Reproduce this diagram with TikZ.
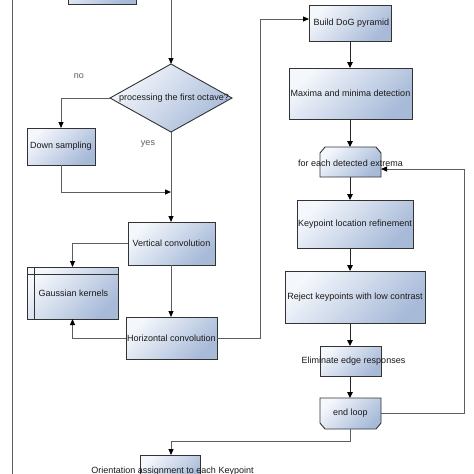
\documentclass[tikz,border=0pt]{standalone}
\usepackage{fontspec}
\setmainfont{Liberation Sans}
\usetikzlibrary{shapes.geometric,arrows.meta,calc}
\definecolor{boxlight}{HTML}{F4F7FC}
\definecolor{boxdark}{HTML}{A7BAD8}
\definecolor{borderc}{HTML}{333333}
\definecolor{linec}{HTML}{5E5E5E}
\definecolor{textc}{HTML}{1A1A1A}
\tikzset{
  boxshade/.style={top color=boxlight, bottom color=boxdark, shading angle=45, draw=borderc, line width=0.9pt},
  box/.style={boxshade, rectangle, inner sep=0pt, outer sep=0pt, minimum width=#1},
  plain/.style={rectangle, inner sep=0pt, outer sep=0pt, draw=none, minimum width=#1},
  txt/.style={text=textc, font=\fontsize{9}{10}\selectfont, inner sep=0pt},
  every label/.style={txt},
  conn/.style={draw=linec, line width=0.8pt},
  arr/.style={conn, -{Triangle[length=6pt,width=5pt,color=black]}},
  darr/.style={draw=black!85, line width=1pt, -{Triangle[length=6pt,width=5.5pt,color=black]}},
  lbl/.style={text=linec, font=\fontsize{9}{10}\selectfont, inner sep=0pt}
}
\begin{document}
\begin{tikzpicture}[x=1pt,y=-1pt]
\useasboundingbox (0,0) rectangle (474,474);
\clip (0,0) rectangle (474,474);
\fill[white] (0,0) rectangle (474,474);

% left column
\node[box=68pt, minimum height=40pt] (top) at (102,-16) {};
\node[diamond, boxshade, inner sep=0pt, outer sep=0pt, minimum width=122pt, minimum height=68pt,
      label={[xshift=3pt]center:processing the first octave?}] (dia) at (171,98) {};
\node[box=68pt, minimum height=37pt, label={center:Down sampling}] (down) at (61,146.5) {};
\node[box=87pt, minimum height=43pt, label={center:Vertical convolution}] (vconv) at (171.5,243.5) {};
\node[box=91pt, minimum height=52pt, label={[xshift=1pt]center:Gaussian kernels}] (gauss) at (72.5,293) {};
\draw[draw=borderc, line width=0.8pt] ($(gauss.north west)+(0,7)$) -- ($(gauss.north east)+(0,7)$);
\draw[draw=borderc, line width=0.8pt] ($(gauss.north west)+(7,0)$) -- ($(gauss.south west)+(7,0)$);
\node[box=91pt, minimum height=42pt, label={center:Horizontal convolution}] (hconv) at (171.5,338) {};
\node[box=60pt, minimum height=30pt] (orient) at (170,470) {};
\node[txt] (orienttxt) at (172.5,471) {Orientation assignment to each Keypoint};

\node[lbl] (no) at (79,76) {no};
\node[lbl] (yes) at (148,144) {yes};

% right column
\node[box=82pt, minimum height=36pt, label={[xshift=1.5pt]center:Build DoG pyramid}] (dog) at (350,23) {};
\node[box=123pt, minimum height=51pt, label={center:Maxima and minima detection}] (maxima) at (350.5,93.5) {};
\node[plain=61pt, minimum height=30pt] (foreach) at (350.5,162) {};
\shade[boxshade] ($(foreach.north west)+(5,0)$) -- ($(foreach.north east)+(-5,0)$) -- ($(foreach.north east)+(0,6)$)
  -- (foreach.south east) -- (foreach.south west) -- ($(foreach.north west)+(0,6)$) -- cycle;
\node[txt] (foreachtxt) at (350.5,163) {for each detected extrema};
\node[box=116pt, minimum height=48pt, label={center:Keypoint location refinement}] (keyp) at (355,224) {};
\node[box=140pt, minimum height=52pt, label={center:Reject keypoints with low contrast}] (reject) at (355,297) {};
\node[box=61pt, minimum height=30pt] (elim) at (350.5,361) {};
\node[txt] (elimtxt) at (353.5,361) {Eliminate edge responses};
\node[plain=61pt, minimum height=31pt] (endloop) at (350.5,413.5) {};
\shade[boxshade] (endloop.north west) -- (endloop.north east) -- ($(endloop.south east)+(0,-6)$)
  -- ($(endloop.south east)+(-5,0)$) -- ($(endloop.south west)+(5,0)$) -- ($(endloop.south west)+(0,-6)$) -- cycle;
\node[txt] (endlooptxt) at (350.5,413.5) {end loop};

% coordinates
\coordinate (lt) at (12,-10);
\coordinate (lb) at (12,490);
\coordinate (tt) at (171,-10);
\coordinate (join) at (171,192);
\coordinate (r1) at (260,19);
\coordinate (r2) at (464,169);
\coordinate (b1) at (171,441);

% connectors
\draw[conn] (lt) -- (lb);
\draw[arr] (tt) -- (dia.north);
\draw[arr] (dia.west) -| (down.north);
\draw[arr] (down.south) |- (join);
\draw[arr] (dia.south) -- (dia.south |- vconv.north);
\draw[arr] (vconv.west) -| (gauss.north);
\draw[arr] (vconv.south -| dia.south) -- (hconv.north -| dia.south);
\draw[arr] (hconv.west) -| (gauss.south);
\draw[arr] (hconv.east) -| (r1) -- (r1 -| dog.west);
\draw[darr] (dog.south) -- (maxima.north -| dog.south);
\draw[darr] (maxima.south -| dog.south) -- (foreach.north -| dog.south);
\draw[darr] (foreach.south -| dog.south) -- (keyp.north -| dog.south);
\draw[darr] (keyp.south -| dog.south) -- (reject.north -| dog.south);
\draw[darr] (reject.south -| dog.south) -- (elim.north -| dog.south);
\draw[darr] (elim.south -| dog.south) -- (endloop.north -| dog.south);
\draw[arr] (endloop.east) -| (r2) -- (r2 -| foreach.east);
\draw[arr] (endloop.south -| dog.south) |- (b1) -- (b1 |- orient.north);
\end{tikzpicture}
\end{document}
